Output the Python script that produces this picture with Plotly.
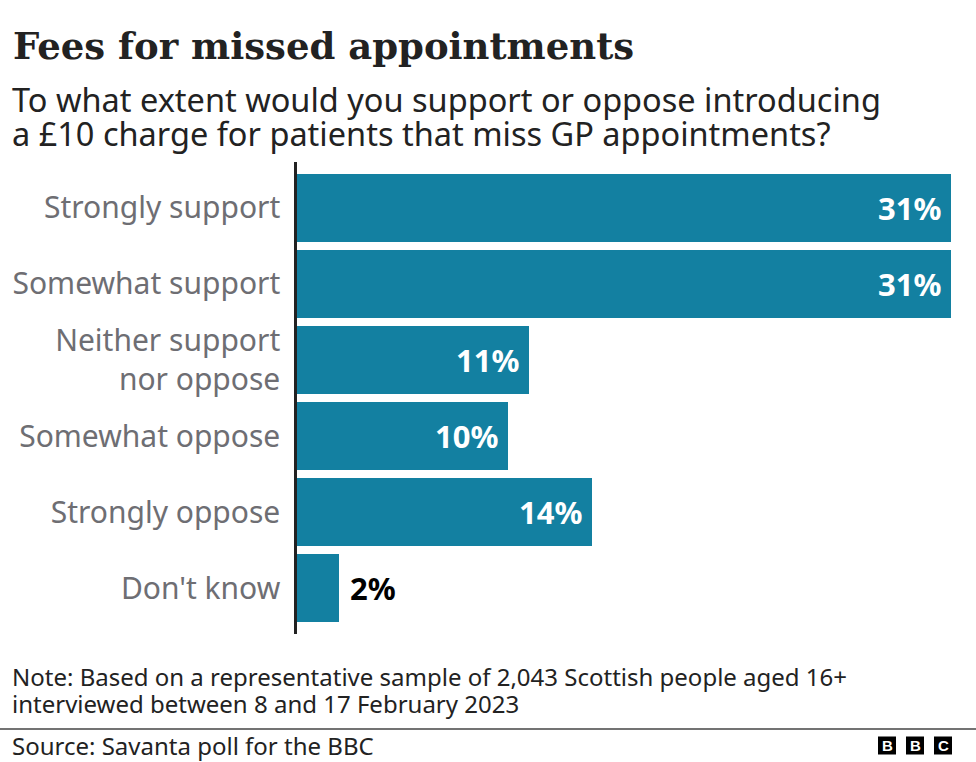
import plotly.graph_objects as go

categories = ["Strongly support", "Somewhat support", "Neither support<br>nor oppose",
              "Somewhat oppose", "Strongly oppose", "Don't know"]
values = [31, 31, 11, 10, 14, 2]
value_labels = ["31%", "31%", "11%", "10%", "14%", "2%"]

W, H = 976, 762
L, R, T, B = 297, 951, 162, 634
BAR = "#1380a1"
SANS = "Noto Sans"


def px(x):
    return (x - L) / (R - L)


def py(y):
    return (B - y) / (B - T)


ypos = list(range(len(categories)))

fig = go.Figure()
fig.add_trace(go.Bar(
    x=values, y=ypos, orientation="h", width=0.89,
    marker=dict(color=BAR, line=dict(width=0)),
    hoverinfo="skip",
))

annotations = []
for yv, v, lab in zip(ypos, values, value_labels):
    inside = v >= 5
    annotations.append(dict(
        x=v, y=yv, xref="x", yref="y", text=f"<b>{lab}</b>", showarrow=False,
        xanchor="right" if inside else "left", yanchor="middle",
        xshift=-8 if inside else 9,
        font=dict(family=SANS, size=31, color="white" if inside else "#000000"),
    ))

# Titles
annotations.append(dict(
    x=px(11), y=py(46), xref="paper", yref="paper", xanchor="left", yanchor="middle",
    text="<b>Fees for missed appointments</b>", showarrow=False,
    font=dict(family="DejaVu Serif", size=37, color="#222222"),
))
annotations.append(dict(
    x=px(10), y=py(100), xref="paper", yref="paper", xanchor="left", yanchor="middle",
    text="To what extent would you support or oppose introducing", showarrow=False,
    font=dict(family=SANS, size=32.5, color="#222222"),
))
annotations.append(dict(
    x=px(10), y=py(134), xref="paper", yref="paper", xanchor="left", yanchor="middle",
    text="a £10 charge for patients that miss GP appointments?", showarrow=False,
    font=dict(family=SANS, size=32.5, color="#222222"),
))
# Notes
annotations.append(dict(
    x=px(10), y=py(676), xref="paper", yref="paper", xanchor="left", yanchor="middle",
    text="Note: Based on a representative sample of 2,043 Scottish people aged 16+", showarrow=False,
    font=dict(family=SANS, size=24, color="#222222"),
))
annotations.append(dict(
    x=px(10), y=py(703), xref="paper", yref="paper", xanchor="left", yanchor="middle",
    text="interviewed between 8 and 17 February 2023", showarrow=False,
    font=dict(family=SANS, size=24, color="#222222"),
))
annotations.append(dict(
    x=px(10), y=py(745), xref="paper", yref="paper", xanchor="left", yanchor="middle",
    text="Source: Savanta poll for the BBC", showarrow=False,
    font=dict(family=SANS, size=24, color="#222222"),
))

shapes = [dict(type="line", xref="paper", yref="paper", x0=px(0), x1=px(976),
               y0=py(729), y1=py(729), line=dict(color="#444444", width=1.5))]
for x0, letter in [(878, "B"), (906, "B"), (934, "C")]:
    shapes.append(dict(type="rect", xref="paper", yref="paper", x0=px(x0), x1=px(x0 + 18),
                       y0=py(754.5), y1=py(736.5), fillcolor="#000000", line=dict(width=0)))
    annotations.append(dict(
        x=px(x0 + 9), y=py(745.5), xref="paper", yref="paper", xanchor="center", yanchor="middle",
        text=f"<b>{letter}</b>", showarrow=False,
        font=dict(family="Liberation Sans", size=15, color="white"),
    ))

fig.update_layout(
    width=W, height=H,
    margin=dict(l=L, r=W - R, t=T, b=H - B, pad=0),
    paper_bgcolor="white", plot_bgcolor="white",
    showlegend=False,
    xaxis=dict(range=[0, 31], visible=False, fixedrange=True),
    yaxis=dict(range=[5.6, -0.6], tickvals=ypos, ticktext=categories,
               showline=True, linecolor="#222222", linewidth=2.5,
               showgrid=False, zeroline=False, ticks="", ticklabelstandoff=8,
               tickfont=dict(family=SANS, size=30, color="#6e6e73"), fixedrange=True),
    annotations=annotations, shapes=shapes,
    bargap=0,
)

fig.write_html("out.html")
